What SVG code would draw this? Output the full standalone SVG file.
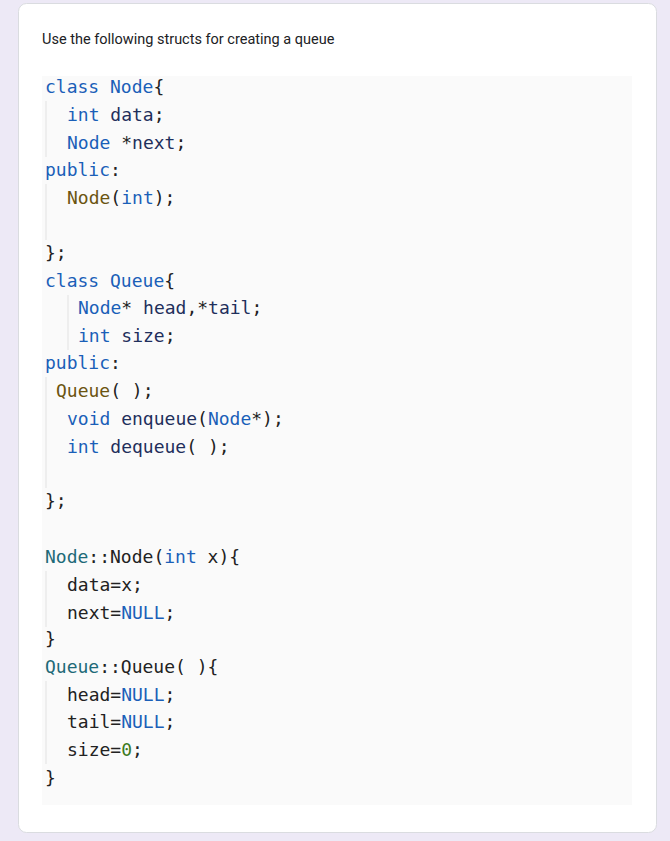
<svg xmlns="http://www.w3.org/2000/svg" width="670" height="841" viewBox="0 0 670 841">
<style>
.c{font-family:"DejaVu Sans Mono",monospace;font-size:18px;fill:#1f2f5c;white-space:pre}
.k{fill:#1a5fb8}.t{fill:#1e6a78}.f{fill:#6b5410}.n{fill:#3d7a1f}.p{fill:#222}
.g{stroke:#e2e2e2;stroke-width:1}
</style>
<rect width="670" height="841" fill="#ede9f6"/>
<rect x="18.5" y="3.5" width="638" height="829" rx="8" fill="#fff" stroke="#dadce0"/>
<text x="42" y="44" font-family="Roboto,sans-serif" font-size="14.5" fill="#202124">Use the following structs for creating a queue</text>
<rect x="42" y="76" width="590" height="729" fill="#fafafa"/>
<g class="g">
<line x1="46" y1="101" x2="46" y2="157"/><line x1="46" y1="184" x2="46" y2="240"/>
<line x1="68" y1="295" x2="68" y2="350"/><line x1="46" y1="377" x2="46" y2="488"/>
<line x1="46" y1="571" x2="46" y2="627"/><line x1="46" y1="681" x2="46" y2="764"/>
</g>
<g id="code" class="c" xml:space="preserve">
<text x="45" y="93"><tspan class="k">class</tspan> <tspan class="k">Node</tspan><tspan class="p">{</tspan></text>
<text x="67" y="121"><tspan class="k">int</tspan> data<tspan class="p">;</tspan></text>
<text x="67" y="149"><tspan class="k">Node</tspan> <tspan class="p">*</tspan>next<tspan class="p">;</tspan></text>
<text x="45" y="176"><tspan class="k">public</tspan><tspan class="p">:</tspan></text>
<text x="67" y="204"><tspan class="f">Node</tspan><tspan class="p">(</tspan><tspan class="k">int</tspan><tspan class="p">);</tspan></text>
<text x="45" y="259" class="p">};</text>
<text x="45" y="287"><tspan class="k">class</tspan> <tspan class="k">Queue</tspan><tspan class="p">{</tspan></text>
<text x="78" y="314"><tspan class="k">Node</tspan><tspan class="p">*</tspan> head<tspan class="p">,*</tspan>tail<tspan class="p">;</tspan></text>
<text x="78" y="342"><tspan class="k">int</tspan> size<tspan class="p">;</tspan></text>
<text x="45" y="369"><tspan class="k">public</tspan><tspan class="p">:</tspan></text>
<text x="56" y="397"><tspan class="f">Queue</tspan><tspan class="p">( );</tspan></text>
<text x="67" y="425"><tspan class="k">void</tspan> enqueue<tspan class="p">(</tspan><tspan class="k">Node</tspan><tspan class="p">*);</tspan></text>
<text x="67" y="453"><tspan class="k">int</tspan> dequeue<tspan class="p">( );</tspan></text>
<text x="45" y="507" class="p">};</text>
<text x="45" y="563"><tspan class="t">Node</tspan><tspan class="p">::Node(</tspan><tspan class="k">int</tspan><tspan class="p"> x){</tspan></text>
<text x="67" y="591" class="p">data=x;</text>
<text x="67" y="619"><tspan class="p">next=</tspan><tspan class="k">NULL</tspan><tspan class="p">;</tspan></text>
<text x="45" y="645" class="p">}</text>
<text x="45" y="673"><tspan class="t">Queue</tspan><tspan class="p">::Queue( ){</tspan></text>
<text x="67" y="701"><tspan class="p">head=</tspan><tspan class="k">NULL</tspan><tspan class="p">;</tspan></text>
<text x="67" y="728"><tspan class="p">tail=</tspan><tspan class="k">NULL</tspan><tspan class="p">;</tspan></text>
<text x="67" y="756"><tspan class="p">size=</tspan><tspan class="n">0</tspan><tspan class="p">;</tspan></text>
<text x="45" y="784" class="p">}</text>
</g>
</svg>
